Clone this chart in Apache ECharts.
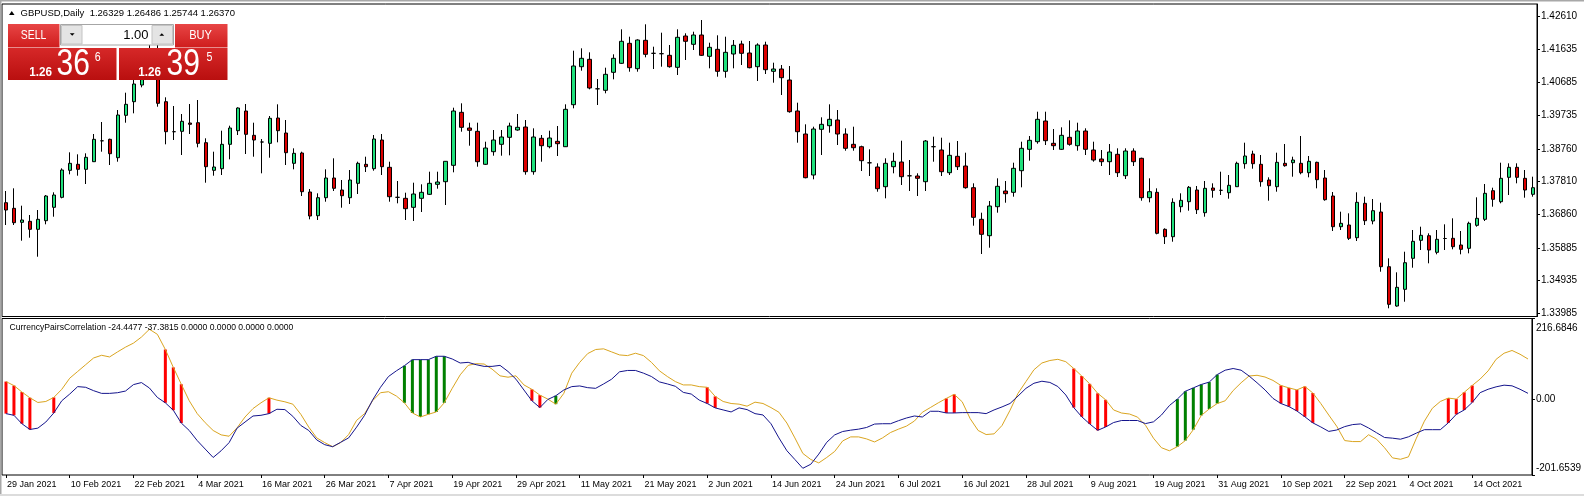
<!DOCTYPE html>
<html>
<head>
<meta charset="utf-8">
<script src="https://cdn.jsdelivr.net/npm/echarts@6/dist/echarts.min.js"></script>
<style>
  html, body { margin: 0; padding: 0; background: #fff; }
  #chart { width: 1584px; height: 496px; }
</style>
</head>
<body>
<div id="chart"></div>
<script>
// date labels, one every 8 daily bars starting at the first bar
const tickLabels = ['29 Jan 2021', '10 Feb 2021', '22 Feb 2021', '4 Mar 2021', '16 Mar 2021', '26 Mar 2021',
  '7 Apr 2021', '19 Apr 2021', '29 Apr 2021', '11 May 2021', '21 May 2021', '2 Jun 2021', '14 Jun 2021',
  '24 Jun 2021', '6 Jul 2021', '16 Jul 2021', '28 Jul 2021', '9 Aug 2021', '19 Aug 2021', '31 Aug 2021',
  '10 Sep 2021', '22 Sep 2021', '4 Oct 2021', '14 Oct 2021'];
const priceTicks = [1.33985, 1.34935, 1.35885, 1.36860, 1.37810, 1.38760, 1.39735, 1.40685, 1.41635, 1.42610];
const corrTicks = [-201.6539, 0, 216.6846];

// GBPUSD daily candles
const openPrices = [
  1.37196, 1.37033, 1.36627, 1.36656, 1.36424, 1.36674, 1.37062, 1.37352, 1.38135, 1.38309,
  1.38164, 1.38385, 1.38991, 1.39034, 1.38501, 1.39730, 1.40125, 1.40609, 1.40986, 1.41450,
  1.40125, 1.39255, 1.39266, 1.39507, 1.39516, 1.38936, 1.38135, 1.38182, 1.38889, 1.39284,
  1.39855, 1.39150, 1.38956, 1.38918, 1.39652, 1.39217, 1.38338, 1.38637, 1.37506, 1.36819,
  1.37341, 1.37912, 1.37564, 1.37341, 1.37758, 1.38309, 1.38182, 1.39014, 1.38222, 1.37352,
  1.37323, 1.37062, 1.37323, 1.37439, 1.37729, 1.37805, 1.38280, 1.39817, 1.39362, 1.39266,
  1.38309, 1.38675, 1.38889, 1.39092, 1.39304, 1.39391, 1.38095, 1.39063, 1.38820, 1.38976,
  1.38820, 1.40038, 1.41140, 1.41354, 1.40499, 1.40455, 1.40977, 1.41238, 1.41818, 1.41082,
  1.41905, 1.41528, 1.41517, 1.41470, 1.41122, 1.42030, 1.41789, 1.42059, 1.41441, 1.41644,
  1.41006, 1.41508, 1.41798, 1.41537, 1.41140, 1.41769, 1.41006, 1.41073, 1.40754, 1.39855,
  1.39188, 1.37999, 1.39324, 1.39429, 1.39594, 1.39188, 1.38889, 1.38820, 1.38353, 1.38231,
  1.37660, 1.38240, 1.38376, 1.37976, 1.37970, 1.37805, 1.38820, 1.38724, 1.38066, 1.38541,
  1.38260, 1.37631, 1.36714, 1.36239, 1.37080, 1.37535, 1.37497, 1.38124, 1.38744, 1.38965,
  1.39565, 1.38918, 1.38744, 1.39092, 1.38849, 1.39275, 1.38724, 1.38463, 1.38385, 1.38599,
  1.37979, 1.38695, 1.38483, 1.37341, 1.37497, 1.36424, 1.36210, 1.37080, 1.37225, 1.37564,
  1.36906, 1.37622, 1.37555, 1.37486, 1.37660, 1.38327, 1.38608, 1.38309, 1.37854, 1.37660,
  1.38338, 1.38356, 1.38338, 1.38066, 1.38367, 1.37912, 1.37390, 1.36500, 1.36549, 1.36181,
  1.37178, 1.36665, 1.36926, 1.35340, 1.34200, 1.34684, 1.35583, 1.36105, 1.36239, 1.35757,
  1.36158, 1.36163, 1.35969, 1.35873, 1.36540, 1.36714, 1.37544, 1.37225, 1.37932, 1.38222,
  1.37903, 1.37439
];
const closePrices = [
  1.36984, 1.36616, 1.36694, 1.36424, 1.36714, 1.37390, 1.37419, 1.38144, 1.38338, 1.38164,
  1.38512, 1.39034, 1.38991, 1.38617, 1.39739, 1.40049, 1.40638, 1.40986, 1.41450, 1.40078,
  1.39255, 1.39255, 1.39556, 1.39469, 1.38918, 1.38240, 1.38231, 1.38889, 1.39362, 1.39942,
  1.39179, 1.39014, 1.38956, 1.39643, 1.39284, 1.38646, 1.38628, 1.37515, 1.36810, 1.37341,
  1.37912, 1.37613, 1.37399, 1.37854, 1.38338, 1.38240, 1.39043, 1.38240, 1.37370, 1.37352,
  1.37022, 1.37448, 1.37497, 1.37758, 1.37796, 1.38396, 1.39855, 1.39382, 1.39295, 1.38385,
  1.38782, 1.39014, 1.39101, 1.39420, 1.39382, 1.38095, 1.39101, 1.38849, 1.39072, 1.38907,
  1.39904, 1.41160, 1.41383, 1.40522, 1.40499, 1.40919, 1.41383, 1.41876, 1.41111, 1.41914,
  1.41499, 1.41528, 1.41517, 1.41140, 1.41992, 1.41876, 1.42059, 1.41470, 1.41702, 1.41006,
  1.41557, 1.41760, 1.41528, 1.41111, 1.41769, 1.41053, 1.41073, 1.40821, 1.39835, 1.39255,
  1.37921, 1.39333, 1.39469, 1.39614, 1.39188, 1.38773, 1.38791, 1.38414, 1.38353, 1.37602,
  1.38338, 1.38396, 1.37950, 1.37976, 1.37903, 1.38985, 1.38820, 1.38095, 1.38570, 1.38240,
  1.37631, 1.36772, 1.36279, 1.37100, 1.37671, 1.37457, 1.38193, 1.38773, 1.39005, 1.39614,
  1.38994, 1.38849, 1.39150, 1.38889, 1.39275, 1.38744, 1.38434, 1.38385, 1.38666, 1.38066,
  1.38695, 1.38385, 1.37341, 1.37515, 1.36308, 1.36210, 1.37207, 1.37265, 1.37642, 1.36993,
  1.37613, 1.37555, 1.37555, 1.37700, 1.38338, 1.38550, 1.38327, 1.37805, 1.37689, 1.38367,
  1.38269, 1.38434, 1.38066, 1.38396, 1.37863, 1.37283, 1.36500, 1.36598, 1.36163, 1.37207,
  1.36674, 1.36964, 1.35340, 1.34249, 1.34742, 1.35456, 1.36076, 1.36250, 1.35824, 1.36134,
  1.36158, 1.35920, 1.35844, 1.36598, 1.36743, 1.37468, 1.37294, 1.37903, 1.38222, 1.37932,
  1.37564, 1.37631
];
const lowPrices = [
  1.36549, 1.36549, 1.36094, 1.36181, 1.35630, 1.36569, 1.36790, 1.37323, 1.38019, 1.37979,
  1.37738, 1.38376, 1.38675, 1.38289, 1.38385, 1.39516, 1.39788, 1.40542, 1.40812, 1.39980,
  1.38889, 1.39014, 1.38579, 1.39188, 1.38802, 1.37776, 1.37979, 1.37999, 1.38454, 1.39159,
  1.38608, 1.38530, 1.38048, 1.38501, 1.38947, 1.38289, 1.38164, 1.37390, 1.36714, 1.36694,
  1.37225, 1.37535, 1.37051, 1.37158, 1.37448, 1.38086, 1.38124, 1.37999, 1.37225, 1.37178,
  1.36694, 1.36665, 1.36926, 1.37419, 1.37602, 1.37129, 1.38077, 1.39255, 1.38849, 1.38240,
  1.38289, 1.38559, 1.38559, 1.38570, 1.39284, 1.38008, 1.38008, 1.38385, 1.38773, 1.38550,
  1.38811, 1.39933, 1.41024, 1.40484, 1.40029, 1.40368, 1.40774, 1.41218, 1.40995, 1.40995,
  1.41412, 1.41073, 1.41140, 1.41111, 1.40899, 1.41334, 1.41624, 1.41450, 1.41093, 1.40850,
  1.40821, 1.41093, 1.41189, 1.41093, 1.40725, 1.40928, 1.40676, 1.40319, 1.39806, 1.38936,
  1.37903, 1.37874, 1.38579, 1.39226, 1.38869, 1.38704, 1.38704, 1.38115, 1.37970, 1.37515,
  1.37323, 1.38048, 1.37709, 1.37535, 1.37390, 1.37535, 1.38385, 1.37970, 1.37999, 1.38144,
  1.37602, 1.36529, 1.35708, 1.35891, 1.36906, 1.37196, 1.37370, 1.37642, 1.38414, 1.38907,
  1.38869, 1.38724, 1.38724, 1.38849, 1.38704, 1.38579, 1.38385, 1.38260, 1.37999, 1.37941,
  1.37883, 1.38260, 1.37254, 1.37207, 1.36279, 1.35998, 1.36065, 1.36917, 1.36964, 1.36868,
  1.36790, 1.37341, 1.37419, 1.37312, 1.37651, 1.38182, 1.38182, 1.37660, 1.37254, 1.37515,
  1.38240, 1.37950, 1.38019, 1.37932, 1.37613, 1.37254, 1.36375, 1.36404, 1.36114, 1.36085,
  1.36549, 1.36569, 1.35195, 1.34133, 1.34180, 1.34325, 1.35311, 1.35824, 1.35438, 1.35699,
  1.35824, 1.35844, 1.35699, 1.35728, 1.36500, 1.36665, 1.37080, 1.37178, 1.37419, 1.37758,
  1.37341, 1.37370
];
const highPrices = [
  1.37535, 1.37613, 1.37109, 1.36839, 1.36984, 1.37419, 1.37497, 1.38193, 1.38657, 1.38599,
  1.38628, 1.39188, 1.39536, 1.39052, 1.39884, 1.40386, 1.40812, 1.41334, 1.42349, 1.41769,
  1.40252, 1.40000, 1.39768, 1.40058, 1.40174, 1.39063, 1.38675, 1.39284, 1.39429, 1.39962,
  1.40058, 1.39516, 1.39043, 1.39710, 1.40049, 1.39594, 1.38773, 1.38675, 1.37593, 1.37468,
  1.38164, 1.38483, 1.37854, 1.38144, 1.38385, 1.38530, 1.39159, 1.39188, 1.38385, 1.37825,
  1.37486, 1.37776, 1.37729, 1.38095, 1.38095, 1.38405, 1.39951, 1.40078, 1.39516, 1.39516,
  1.38965, 1.39304, 1.39304, 1.39516, 1.39768, 1.39594, 1.39353, 1.39159, 1.39284, 1.39420,
  1.40049, 1.41604, 1.41673, 1.41557, 1.40783, 1.41111, 1.41499, 1.42224, 1.42010, 1.41934,
  1.42369, 1.41720, 1.42126, 1.41769, 1.42224, 1.42108, 1.42155, 1.42494, 1.41836, 1.42050,
  1.42010, 1.41914, 1.41894, 1.41885, 1.41818, 1.41865, 1.41256, 1.41189, 1.41160, 1.40096,
  1.39469, 1.39400, 1.39672, 1.40049, 1.39884, 1.39353, 1.39400, 1.38849, 1.38744, 1.38338,
  1.38483, 1.38646, 1.38994, 1.38434, 1.38048, 1.39014, 1.39110, 1.39081, 1.38936, 1.38985,
  1.38646, 1.37758, 1.36906, 1.37245, 1.37903, 1.37825, 1.38356, 1.38965, 1.39130, 1.39835,
  1.39835, 1.39333, 1.39382, 1.39585, 1.39516, 1.39353, 1.38965, 1.38724, 1.38898, 1.38773,
  1.38773, 1.38773, 1.38501, 1.37903, 1.37613, 1.36453, 1.37323, 1.37468, 1.37680, 1.37680,
  1.37825, 1.37758, 1.38095, 1.37999, 1.38385, 1.38936, 1.38704, 1.38579, 1.37932, 1.38646,
  1.38898, 1.38530, 1.39130, 1.38550, 1.38385, 1.38144, 1.37506, 1.36935, 1.36888, 1.37497,
  1.37370, 1.37303, 1.37196, 1.35583, 1.35177, 1.35775, 1.36404, 1.36500, 1.36308, 1.36404,
  1.36569, 1.36743, 1.36375, 1.36645, 1.37352, 1.37738, 1.37631, 1.38356, 1.38338, 1.38338,
  1.38144, 1.37950
];

// CurrencyPairsCorrelation lines
const corrOrange = [
  48.1, 37.3, 20.1, 4.8, -7.8, -5.1, 5.7, 27.3, 57.1, 75.1,
  93.2, 111.2, 118.4, 113.9, 127.4, 140.1, 150.9, 167.1, 187.9, 174.3,
  133.8, 86.0, 40.9, -3.3, -37.6, -61.9, -82.7, -94.4, -98.0, -75.5,
  -46.6, -24.1, -8.7, 4.8, -1.5, -6.0, -12.3, -39.4, -73.7, -102.5,
  -115.1, -126.0, -115.1, -93.5, -55.6, -37.6, -3.3, 18.3, 21.0, 9.3,
  -8.7, -35.8, -46.6, -39.4, -33.1, -8.7, 30.0, 66.1, 91.4, 95.9,
  95.0, 81.4, 63.4, 59.8, 63.4, 39.1, 27.3, 11.9, 1.2, -12.3,
  16.5, 70.6, 99.5, 122.9, 133.8, 135.6, 127.4, 119.3, 117.5, 123.8,
  117.5, 99.5, 76.9, 61.6, 48.1, 39.1, 39.1, 34.6, 32.8, 8.4,
  -5.1, -10.5, -12.3, -17.7, -6.9, -10.5, -21.4, -33.9, -62.8, -102.5,
  -144.0, -160.2, -169.3, -154.8, -138.6, -110.6, -99.8, -99.8, -105.2, -113.3,
  -102.5, -88.1, -79.1, -71.0, -57.4, -34.0, -21.4, -8.7, 3.0, 13.8,
  -6.0, -51.1, -82.7, -93.5, -91.7, -69.2, -28.6, 16.5, 48.1, 79.6,
  97.7, 104.4, 107.6, 101.2, 83.0, 63.0, 42.1, 16.7, -0.6, -27.8,
  -36.0, -38.7, -46.9, -68.7, -103.2, -128.7, -136.9, -125.9, -109.6, -80.5,
  -42.4, -25.1, -10.6, -3.3, 24.0, 44.9, 63.0, 64.9, 60.3, 51.2,
  37.6, 31.2, 25.8, 34.9, 17.6, -10.6, -41.4, -71.4, -109.6, -112.3,
  -112.3, -94.1, -106.0, -128.7, -155.9, -159.6, -153.2, -103.2, -57.8, -23.3,
  -5.1, 4.0, 1.3, 19.4, 37.6, 54.9, 76.7, 107.6, 123.9, 131.2,
  121.2, 108.5
];
const corrBlue = [
  -37.6, -42.1, -64.6, -80.0, -76.4, -60.1, -35.8, -3.3, 14.7, 34.6,
  32.8, 23.7, 16.5, 16.5, 18.3, 22.8, 40.0, 45.4, 30.9, 5.7,
  -8.7, -28.6, -62.8, -82.7, -109.7, -132.3, -154.8, -136.8, -115.1, -76.4,
  -60.1, -43.9, -42.1, -37.6, -25.9, -26.8, -44.8, -69.2, -82.7, -107.9,
  -120.6, -126.0, -114.2, -102.5, -73.7, -42.1, -1.5, 32.8, 61.6, 76.9,
  90.5, 106.7, 106.7, 106.7, 115.7, 115.7, 108.5, 97.7, 99.5, 93.2,
  88.7, 88.7, 91.4, 75.1, 54.4, 25.5, -3.3, -21.4, 0.3, 10.2,
  25.5, 34.6, 36.4, 31.8, 30.0, 41.8, 54.4, 74.2, 77.8, 77.8,
  70.6, 61.6, 47.2, 41.8, 35.5, 19.2, 14.7, -1.5, -10.5, -22.3,
  -27.7, -33.1, -22.3, -26.8, -37.6, -41.2, -64.6, -102.5, -136.8, -160.2,
  -183.7, -172.9, -145.8, -114.2, -94.4, -85.4, -81.8, -79.1, -74.6, -65.5,
  -64.6, -64.6, -56.5, -49.3, -43.9, -46.6, -31.3, -31.3, -35.8, -35.8,
  -34.9, -34.9, -34.9, -37.6, -27.7, -19.6, -10.5, 9.3, 30.0, 43.6,
  49.0, 45.8, 34.9, 12.2, -21.5, -46.0, -65.1, -82.3, -73.2, -61.4,
  -56.0, -56.0, -56.0, -64.2, -59.6, -41.4, -16.0, 1.3, 22.2, 31.2,
  40.3, 46.7, 66.7, 78.5, 83.0, 78.5, 63.0, 44.9, 25.8, 3.1,
  -10.6, -18.7, -30.5, -46.0, -62.3, -73.2, -85.1, -81.4, -72.3, -66.9,
  -65.1, -76.0, -88.7, -101.4, -103.2, -106.0, -99.6, -89.6, -80.5, -80.5,
  -80.5, -62.3, -39.6, -27.8, -7.8, 18.5, 27.6, 34.0, 38.5, 36.7,
  27.6, 16.7
];
// bars where the indicator paints its histogram
const redSignals = [0, 1, 2, 3, 6, 20, 21, 22, 33, 66, 67, 88, 89, 118, 119,
  134, 135, 136, 137, 138, 160, 161, 162, 163, 164, 181, 182, 183, 184];
const greenSignals = [50, 51, 52, 53, 54, 55, 69, 147, 148, 149, 150, 151, 152];

const bars = openPrices.map((o, i) => i);
const candles = openPrices.map((o, i) => [o, closePrices[i], lowPrices[i], highPrices[i]]);
const histData = redSignals.map(k => [k, corrOrange[k], corrBlue[k], 1])
  .concat(greenSignals.map(k => [k, corrOrange[k], corrBlue[k], 0]));

var chart = echarts.init(document.getElementById('chart'), null, { renderer: 'canvas' });

const FONT = 'Liberation Sans';
const redGrad = (a, b) => new echarts.graphic.LinearGradient(0, 0, 0, 1, [
  { offset: 0, color: a }, { offset: 1, color: b }]);

function txt(x, y, text, size, opts) {
  opts = opts || {};
  return {
    type: 'text', x: x, y: y, z: 110, scaleX: opts.sx || 1,
    style: {
      text: text, x: 0, y: 0, fill: opts.fill || '#fff',
      font: (opts.bold ? 'bold ' : '') + size + 'px "' + FONT + '"',
      align: opts.align || 'left', verticalAlign: opts.va || 'middle'
    }
  };
}

var option = {
  animation: false,
  backgroundColor: '#fff',
  textStyle: { fontFamily: FONT },
  grid: [
    { left: 2, right: 47, top: 4, height: 312.5, show: true, borderColor: '#000', borderWidth: 1, backgroundColor: '#fff' },
    { left: 2, right: 47, top: 318.5, height: 156.5, show: true, borderColor: '#000', borderWidth: 1, backgroundColor: '#fff' }
  ],
  xAxis: [
    { type: 'category', gridIndex: 0, data: bars, boundaryGap: true, show: false },
    {
      type: 'category', gridIndex: 1, data: bars, boundaryGap: true,
      axisLine: { show: false, onZero: false },
      axisTick: { show: true, length: 3, alignWithLabel: true, interval: (i) => i % 8 === 0, lineStyle: { color: '#000' } },
      axisLabel: {
        interval: (i) => i % 8 === 0,
        formatter: (v, i) => tickLabels[i / 8] || '',
        align: 'left', margin: 5, padding: [0, 0, 0, 1], fontSize: 9, color: '#000'
      },
      splitLine: { show: false }
    }
  ],
  yAxis: [
    {
      type: 'value', gridIndex: 0, position: 'right', min: 1.33896, max: 1.42958,
      axisLine: { show: true, lineStyle: { color: '#000' } },
      axisTick: { show: true, length: 3, customValues: priceTicks, lineStyle: { color: '#000' } },
      axisLabel: { customValues: priceTicks, formatter: (v) => v.toFixed(5), fontSize: 10, color: '#000', margin: 4 },
      splitLine: { show: false }
    },
    {
      type: 'value', gridIndex: 1, position: 'right', min: -201.6539, max: 216.6846,
      axisLine: { show: true, lineStyle: { color: '#000' } },
      axisTick: { show: true, length: 3, customValues: corrTicks, lineStyle: { color: '#000' } },
      axisLabel: {
        customValues: corrTicks,
        formatter: (v) => v === 0 ? '0.00' : (v > 0 ? '{top|' + v.toFixed(4) + '}' : '{bot|' + v.toFixed(4) + '}'),
        rich: { top: { fontSize: 10, padding: [5, 0, 0, 0] }, bot: { fontSize: 10, padding: [0, 0, 2, 0] } },
        fontSize: 10, color: '#000', margin: 4,
        verticalAlignMinLabel: 'bottom', verticalAlignMaxLabel: 'top'
      },
      splitLine: { show: false }
    }
  ],
  series: [
    {
      type: 'candlestick', xAxisIndex: 0, yAxisIndex: 0, data: candles, barWidth: 4,
      itemStyle: {
        color: '#1fe07c', color0: '#dc0000', borderColor: '#000', borderColor0: '#000',
        borderColorDoji: '#000', borderWidth: 1
      }
    },
    {
      type: 'custom', xAxisIndex: 1, yAxisIndex: 1, data: histData, z: 1,
      encode: { x: 0, y: [1, 2] },
      renderItem: function (params, api) {
        const a = api.coord([api.value(0), api.value(1)]);
        const b = api.coord([api.value(0), api.value(2)]);
        return {
          type: 'rect',
          shape: { x: a[0] - 1.5, y: Math.min(a[1], b[1]), width: 3, height: Math.abs(a[1] - b[1]) },
          style: { fill: api.value(3) === 1 ? '#ff0000' : '#008000' }
        };
      }
    },
    {
      type: 'line', xAxisIndex: 1, yAxisIndex: 1, data: corrOrange, symbol: 'none', z: 3,
      lineStyle: { color: '#daa520', width: 1 }
    },
    {
      type: 'line', xAxisIndex: 1, yAxisIndex: 1, data: corrBlue, symbol: 'none', z: 3,
      lineStyle: { color: '#14148c', width: 1 }
    }
  ],
  graphic: [
    // window frame
    { type: 'rect', z: 90, shape: { x: 0, y: 0, width: 1584, height: 1.5 }, style: { fill: '#a8a8a8' } },
    { type: 'rect', z: 90, shape: { x: 0, y: 0, width: 1.5, height: 496 }, style: { fill: '#a8a8a8' } },
    { type: 'rect', z: 90, shape: { x: 0, y: 494, width: 1584, height: 2 }, style: { fill: '#dcdcdc' } },
    // chart header
    { type: 'polygon', z: 100, shape: { points: [[9, 15], [14.5, 15], [11.75, 11]] }, style: { fill: '#000' } },
    txt(20.5, 13.5, 'GBPUSD,Daily  1.26329 1.26486 1.25744 1.26370', 9.5, { fill: '#000' }),
    txt(9.5, 328, 'CurrencyPairsCorrelation -24.4477 -37.3815 0.0000 0.0000 0.0000 0.0000', 8.6, { fill: '#000' }),
    // one click trading panel
    { type: 'rect', z: 100, shape: { x: 8, y: 24, width: 51.5, height: 23.5 }, style: { fill: redGrad('#e84545', '#cf1d1d') } },
    { type: 'rect', z: 100, shape: { x: 175, y: 24, width: 52.5, height: 23.5 }, style: { fill: redGrad('#e84545', '#cf1d1d') } },
    { type: 'rect', z: 100, shape: { x: 8, y: 48, width: 108.5, height: 32 }, style: { fill: redGrad('#d62828', '#b90f0f') } },
    { type: 'rect', z: 100, shape: { x: 119, y: 48, width: 108.5, height: 32 }, style: { fill: redGrad('#d62828', '#b90f0f') } },
    { type: 'rect', z: 100, shape: { x: 60.5, y: 24.5, width: 113, height: 20.5 }, style: { fill: '#fff', stroke: '#a6a6a6', lineWidth: 1 } },
    { type: 'rect', z: 101, shape: { x: 61.5, y: 25.5, width: 20.5, height: 18.5 }, style: { fill: '#e4e4e4', stroke: '#c4c4c4', lineWidth: 1 } },
    { type: 'rect', z: 101, shape: { x: 152, y: 25.5, width: 20.5, height: 18.5 }, style: { fill: '#e4e4e4', stroke: '#c4c4c4', lineWidth: 1 } },
    { type: 'polygon', z: 102, shape: { points: [[69.8, 33.2], [74.6, 33.2], [72.2, 35.8]] }, style: { fill: '#000' } },
    { type: 'polygon', z: 102, shape: { points: [[159.4, 35.8], [164.2, 35.8], [161.8, 33.2]] }, style: { fill: '#000' } },
    txt(148.5, 35, '1.00', 13, { fill: '#000', align: 'right' }),
    txt(33.5, 35.5, 'SELL', 13, { align: 'center', sx: 0.8 }),
    txt(200.5, 35.5, 'BUY', 13, { align: 'center', sx: 0.85 }),
    txt(29.3, 72, '1.26', 13, { bold: true, sx: 0.9 }),
    txt(56.5, 64.5, '36', 37, { sx: 0.81 }),
    txt(94.8, 57.5, '6', 12.5, { sx: 0.85 }),
    txt(138.3, 72, '1.26', 13, { bold: true, sx: 0.9 }),
    txt(166.5, 64.5, '39', 37, { sx: 0.81 }),
    txt(206.5, 57.5, '5', 12.5, { sx: 0.85 })
  ]
};

chart.setOption(option);
</script>
</body>
</html>
